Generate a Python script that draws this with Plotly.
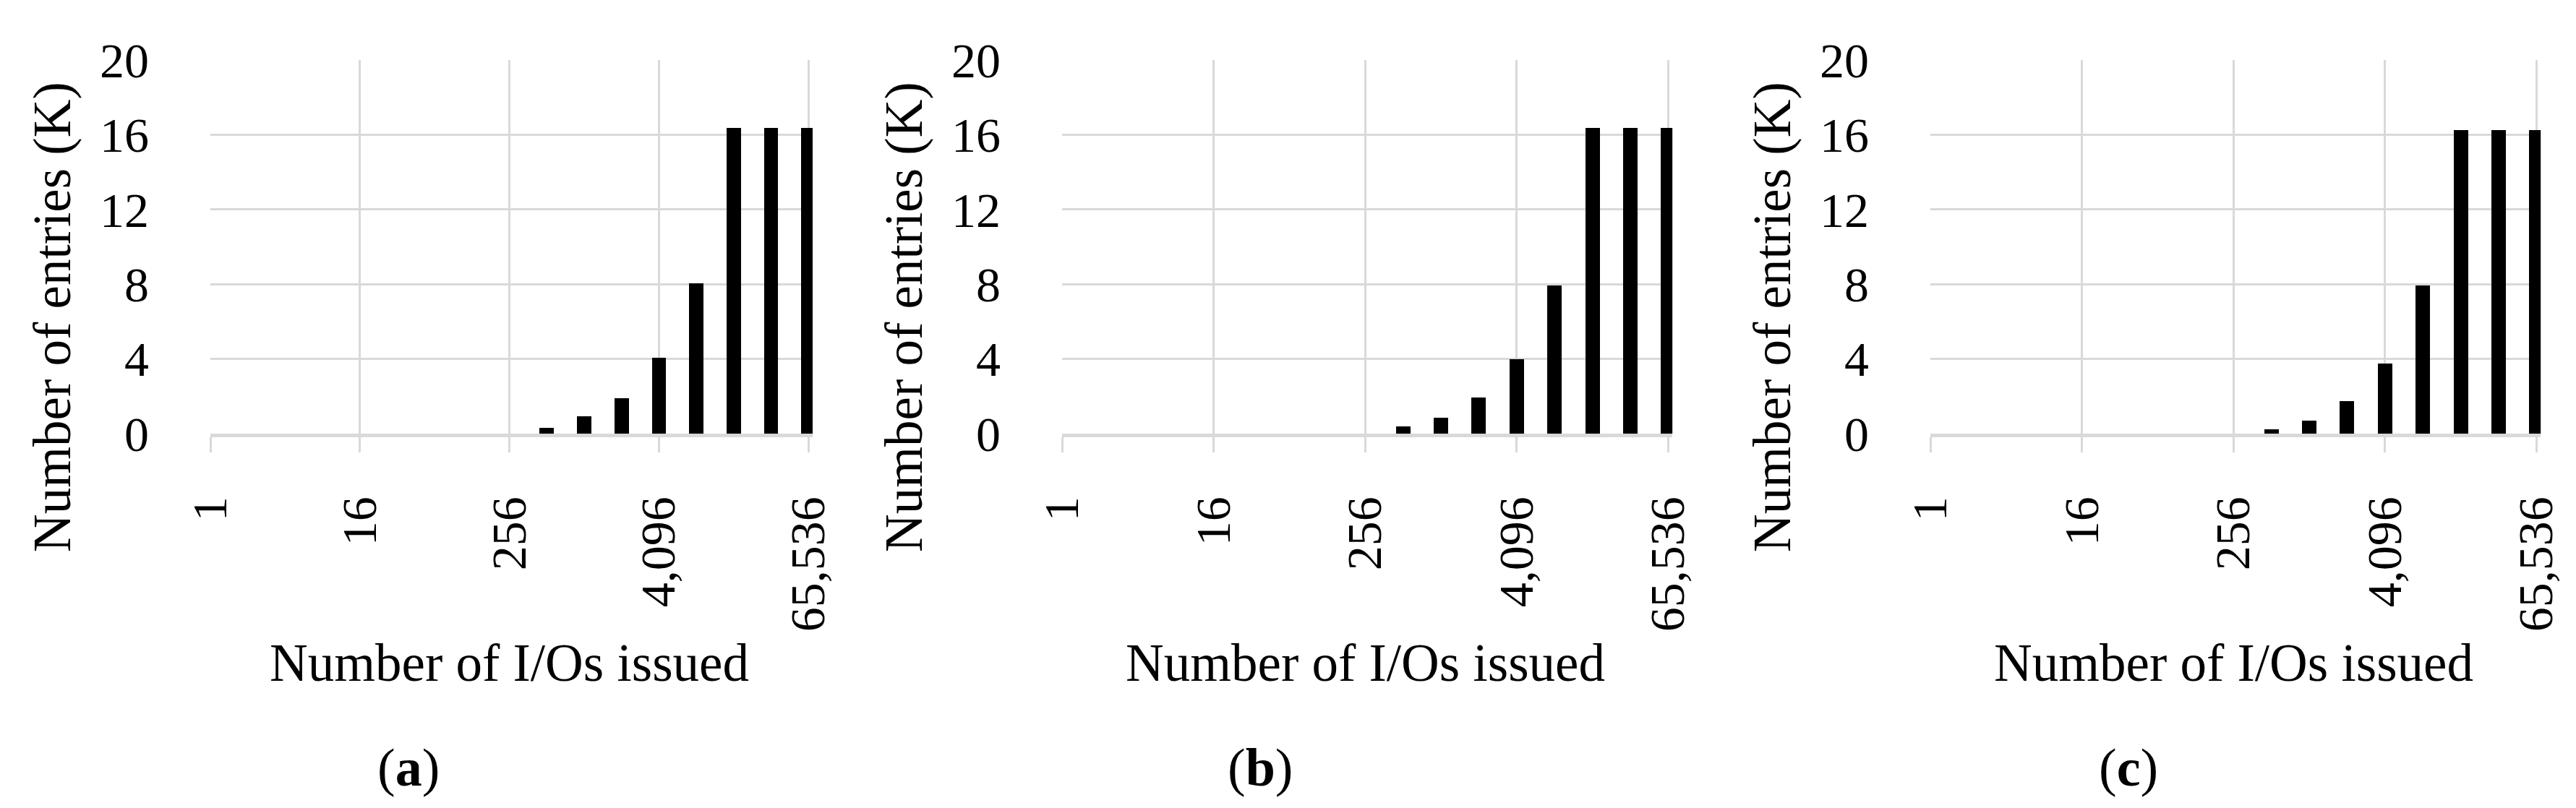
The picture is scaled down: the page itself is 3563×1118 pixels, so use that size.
import numpy as np
import plotly.graph_objects as go

# ---- data ----
io_counts = [512, 1024, 2048, 4096, 8192, 16384, 32768, 65536]
entries_a = [0.30, 0.93, 1.88, 4.05, 8.05, 16.38, 16.38, 16.38]
entries_b = [0.40, 0.85, 1.95, 4.00, 7.92, 16.38, 16.38, 16.38]
entries_c = [0.22, 0.70, 1.75, 3.75, 7.93, 16.24, 16.24, 16.24]
x_tick_vals = [1, 16, 256, 4096, 65536]
x_tick_text = ["1", "16", "256", "4,096", "65,536"]
y_tick_vals = [0, 4, 8, 12, 16, 20]
panel_labels = ["a", "b", "c"]
x_title = "Number of I/Os issued"
y_title = "Number of entries (K)"

W, H = 3563, 1118
FONT = "Liberation Serif"
GRID = "#d9d9d9"

# panel plot-area geometry in pixels (left, px per unit)
panels = [(283, 51.7), (1461, 52.4), (2662, 52.4)]
top_px, bottom_px = 75, 592
xmax = 16.11

fig = go.Figure()
series = [entries_a, entries_b, entries_c]
xpos = list(np.log2(io_counts))

for i, ((left, ppu), vals) in enumerate(zip(panels, series)):
    n = "" if i == 0 else str(i + 1)
    right = left + xmax * ppu
    fig.add_trace(go.Bar(x=xpos, y=vals, width=0.38, marker=dict(color="black", line=dict(width=0)),
                         xaxis="x" + n, yaxis="y" + n, showlegend=False))
    fig.layout["xaxis" + n] = dict(
        domain=[left / W, right / W], anchor="y" + n, range=[0, xmax], automargin=False,
        tickmode="array", tickvals=list(np.log2(x_tick_vals)), ticktext=x_tick_text,
        tickangle=-90, showgrid=True, gridcolor=GRID, gridwidth=2.5,
        showline=True, linecolor=GRID, linewidth=5,
        ticks="outside", ticklen=21, tickwidth=3, tickcolor=GRID,
        ticklabelstandoff=34, zeroline=False,
        tickfont=dict(family=FONT, size=68, color="black"))
    fig.layout["yaxis" + n] = dict(
        domain=[1 - bottom_px / H, 1 - top_px / H], anchor="x" + n, range=[0, 20], automargin=False,
        tickmode="array", tickvals=y_tick_vals, showgrid=True, gridcolor=GRID, gridwidth=2.5,
        zeroline=False, showline=False, ticks="", ticklabelstandoff=84,
        tickfont=dict(family=FONT, size=68, color="black"))
    plot_center = (left + left + 16 * ppu) / 2
    # x title
    fig.add_annotation(text=x_title, x=plot_center / W, y=1 - 909 / H, xref="paper", yref="paper",
                       showarrow=False, xanchor="center", yanchor="middle",
                       font=dict(family=FONT, size=73, color="black"))
    # y title
    fig.add_annotation(text=y_title, x=(left - 219) / W, y=1 - 431 / H, xref="paper", yref="paper",
                       showarrow=False, xanchor="center", yanchor="middle", textangle=-90,
                       font=dict(family=FONT, size=73, color="black"))
    # panel label
    fig.add_annotation(text="(<b>" + panel_labels[i] + "</b>)", x=(left + 274) / W, y=1 - 1054 / H,
                       xref="paper", yref="paper", showarrow=False, xanchor="center", yanchor="middle",
                       font=dict(family=FONT, size=74, color="black"))

fig.update_layout(width=W, height=H, margin=dict(l=0, r=0, t=0, b=0, autoexpand=False),
                  plot_bgcolor="white", paper_bgcolor="white", bargap=0)
fig.write_html("out.html")
